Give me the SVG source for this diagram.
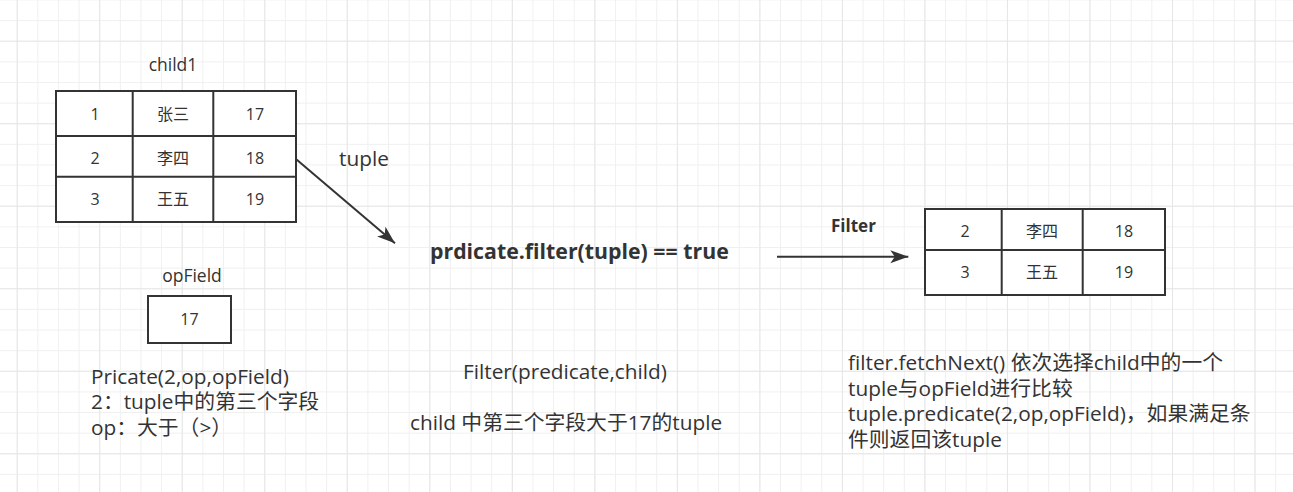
<svg xmlns="http://www.w3.org/2000/svg" width="1293" height="492" viewBox="0 0 1293 492">
<style>
.t{font-family:"Open Sans","Noto Sans CJK SC",sans-serif;fill:#333333}
.big{font-size:20.8px}
.cell{font-size:16px;text-anchor:middle}
.lbl{font-size:17.5px;text-anchor:middle}
.bold{font-weight:bold}
.box{fill:#ffffff;stroke:#333333;stroke-width:2}
.div{stroke:#333333;stroke-width:2;fill:none}
.edge{stroke:#333333;stroke-width:2;fill:none}
</style>
<defs>
<pattern id="minor" x="16.7" y="40.7" width="20.63" height="20.63" patternUnits="userSpaceOnUse">
<path d="M0.5 0V20.63M0 0.5H20.63" stroke="#f0f0f0" stroke-width="1" fill="none"/>
</pattern>
<pattern id="major" x="16.7" y="40.7" width="82.52" height="82.52" patternUnits="userSpaceOnUse">
<path d="M0.5 0V82.52M0 0.5H82.52" stroke="#e6e6e6" stroke-width="1" fill="none"/>
</pattern>
<marker id="arr" markerUnits="userSpaceOnUse" markerWidth="20" markerHeight="14" refX="18" refY="6.5" orient="auto">
<path d="M0 0L18 6.5L0 13L4.5 6.5Z" fill="#333333"/>
</marker>
</defs>
<rect width="1293" height="492" fill="#ffffff"/>
<rect width="1293" height="492" fill="url(#minor)"/>
<rect width="1293" height="492" fill="url(#major)"/>

<g id="child1-label"><text class="t lbl" x="173" y="71">child1</text></g>
<g id="child1-table">
<rect class="box" x="56" y="91" width="240" height="131"/>
<path class="div" d="M132.7 91V222M213.3 91V222M56 136H296M56 176.7H296"/>
<text class="t cell" x="95" y="119.5">1</text>
<text class="t cell" x="173" y="119.5">张三</text>
<text class="t cell" x="255" y="119.5">17</text>
<text class="t cell" x="95" y="164">2</text>
<text class="t cell" x="173" y="164">李四</text>
<text class="t cell" x="255" y="164">18</text>
<text class="t cell" x="95" y="205">3</text>
<text class="t cell" x="173" y="205">王五</text>
<text class="t cell" x="255" y="205">19</text>
</g>

<g id="opfield-label"><text class="t lbl" x="192" y="282">opField</text></g>
<g id="opfield-box">
<rect class="box" x="148" y="296" width="83" height="47"/>
<text class="t cell" x="189.5" y="325">17</text>
</g>

<g id="predicate-text">
<text class="t big" x="91" y="383.5">Pricate(2,op,opField)</text>
<text class="t big" x="91" y="409.3">2：tuple中的第三个字段</text>
<text class="t big" x="91" y="434.5">op：大于（&gt;）</text>
</g>

<g id="tuple-label"><text class="t big" x="339" y="166">tuple</text></g>

<g id="filter-expr"><text class="t bold" style="font-size:21.3px" x="430" y="259">prdicate.filter(tuple) == true</text></g>

<g id="filter-desc">
<text class="t big" x="463" y="379">Filter(predicate,child)</text>
<text class="t big" x="410" y="430">child 中第三个字段大于17的tuple</text>
</g>

<g id="filter-label"><text class="t bold" style="font-size:17px" x="831" y="232">Filter</text></g>

<g id="result-table">
<rect class="box" x="925" y="209" width="240" height="86"/>
<path class="div" d="M1001.7 209V295M1082.7 209V295M925 250H1165"/>
<text class="t cell" x="965" y="236.5">2</text>
<text class="t cell" x="1042" y="236.5">李四</text>
<text class="t cell" x="1124" y="236.5">18</text>
<text class="t cell" x="965" y="277.5">3</text>
<text class="t cell" x="1042" y="277.5">王五</text>
<text class="t cell" x="1124" y="277.5">19</text>
</g>

<g id="fetch-text">
<text class="t big" x="848" y="370">filter.fetchNext() 依次选择child中的一个</text>
<text class="t big" x="848" y="395.5">tuple与opField进行比较</text>
<text class="t big" x="848" y="421">tuple.predicate(2,op,opField)，如果满足条</text>
<text class="t big" x="848" y="446.5">件则返回该tuple</text>
</g>

<g id="connectors">
<line class="edge" x1="296.5" y1="159.5" x2="395" y2="243.3" marker-end="url(#arr)"/>
<line class="edge" x1="777" y1="256.7" x2="908.3" y2="256.7" marker-end="url(#arr)"/>
</g>
</svg>
